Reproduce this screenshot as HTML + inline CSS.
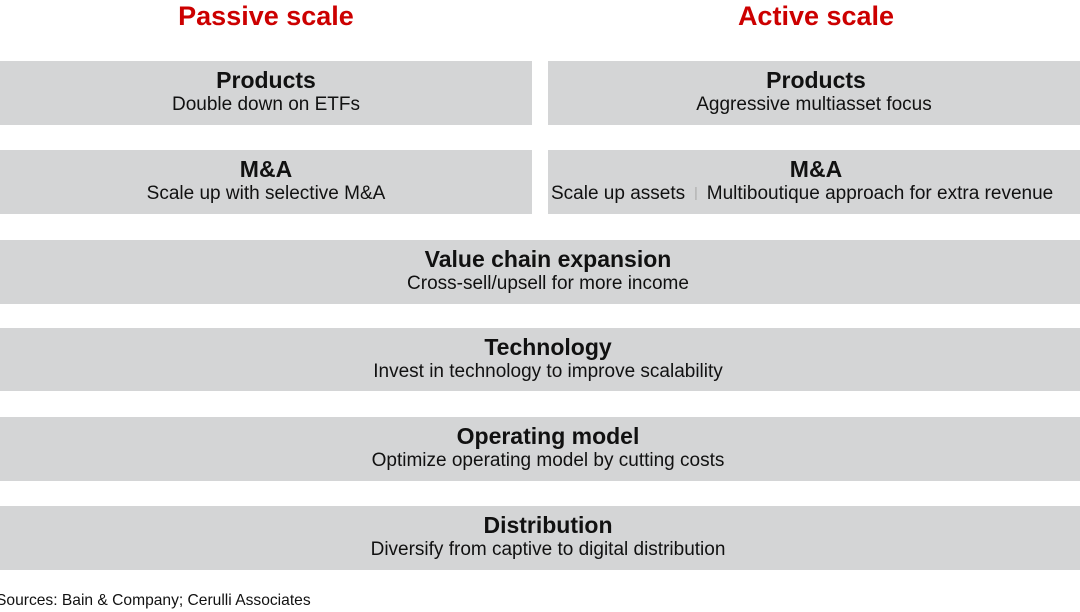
<!DOCTYPE html>
<html><head><style>
body{margin:0;width:1080px;height:612px;background:#fff;position:relative;overflow:hidden;font-family:"Liberation Sans",sans-serif;color:#111}
.t{position:absolute;top:1px;color:#cc0000;font-weight:bold;font-size:27px;text-align:center;line-height:30px}
.b{position:absolute;background:#d4d5d6;text-align:center;box-sizing:border-box;padding-top:7px}
.b h{display:block;font-weight:bold;font-size:23px;line-height:24px}
.b s{display:block;text-decoration:none;font-size:19px;line-height:24px;margin-top:1px}
.f{padding-left:16px}
.sep{color:#aaa;font-size:14px;margin:0 9px;position:relative;top:-2px}
</style></head><body>
<div class="t" style="left:0;width:532px">Passive scale</div>
<div class="t" style="left:548px;width:536px">Active scale</div>
<div class="b" style="left:0;top:61px;width:532px;height:64px"><h>Products</h><s>Double down on ETFs</s></div>
<div class="b" style="left:548px;top:61px;width:532px;height:64px"><h style="margin-left:4px">Products</h><s>Aggressive multiasset focus</s></div>
<div class="b" style="left:0;top:150px;width:532px;height:64px"><h>M&amp;A</h><s>Scale up with selective M&amp;A</s></div>
<div class="b" style="left:548px;top:150px;width:532px;height:64px;white-space:nowrap;overflow:hidden"><h style="margin-left:4px">M&amp;A</h><s style="text-align:left;padding-left:3px">Scale up assets<span class="sep">|</span>Multiboutique approach for extra revenue</s></div>
<div class="b f" style="left:0;top:240px;width:1080px;height:64px"><h>Value chain expansion</h><s>Cross-sell/upsell for more income</s></div>
<div class="b f" style="left:0;top:328px;width:1080px;height:63px"><h>Technology</h><s>Invest in technology to improve scalability</s></div>
<div class="b f" style="left:0;top:417px;width:1080px;height:64px"><h>Operating model</h><s>Optimize operating model by cutting costs</s></div>
<div class="b f" style="left:0;top:506px;width:1080px;height:64px"><h>Distribution</h><s>Diversify from captive to digital distribution</s></div>
<div style="position:absolute;left:-4px;top:591px;font-size:15.6px;line-height:20px">Sources: Bain &amp; Company; Cerulli Associates</div>
</body></html>
